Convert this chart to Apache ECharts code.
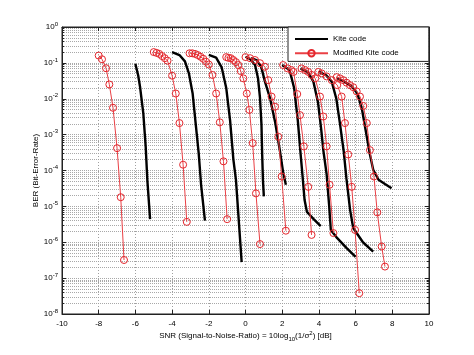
<!DOCTYPE html>
<html><head><meta charset="utf-8">
<script src="https://cdn.jsdelivr.net/npm/echarts@6/dist/echarts.min.js"></script>
<style>html,body{margin:0;padding:0;background:#fff}#c{width:474px;height:355px}</style>
</head><body><div id="c"></div>
<script>
// x positions are SNR in dB, y values are BER
const kite1 = [[-6.0,0.093],[-5.85,0.045],[-5.75,0.022],[-5.57,4e-3],[-5.44,4.7e-4],[-5.35,5.5e-5],[-5.2,4.4e-6]];
const kite2 = [[-4.0,0.2],[-3.6,0.165],[-3.3,0.11],[-3.08,0.05],[-2.88,0.014],[-2.7,1.7e-3],[-2.55,3e-4],[-2.42,4e-5],[-2.21,4e-6]];
const kite3 = [[-2.0,0.166],[-1.6,0.14],[-1.3,0.075],[-1.05,0.02],[-0.84,2.5e-3],[-0.66,2e-4],[-0.52,5.5e-5],[-0.21,2.8e-7]];
const kite4 = [[0,0.148],[0.25,0.128],[0.52,0.087],[0.68,0.038],[0.79,0.0105],[0.87,1.9e-3],[0.91,2.7e-4],[0.95,5.5e-5],[1.0,1.9e-5]];
const kite5 = [[0.3,0.135],[0.6,0.12],[0.85,0.08],[1.06,0.03],[1.34,0.0102],[1.61,2.3e-3],[1.88,3.4e-4],[2.05,9e-5],[2.2,4e-5]];
const kite6 = [[2.0,0.087],[2.4,0.063],[2.65,0.02],[2.85,2.5e-3],[3.0,3e-4],[3.12,6e-5],[3.22,1.5e-5],[3.35,7e-6],[3.7,4.5e-6],[4.1,2.8e-6]];
const kite7 = [[3.0,0.07],[3.4,0.055],[3.7,0.03],[3.95,8e-3],[4.12,1.5e-3],[4.24,3.7e-4],[4.42,8e-5],[4.55,1.2e-5],[4.65,2.2e-6],[5.0,1.3e-6],[5.5,7e-7],[6.0,3.9e-7]];
const kite8 = [[4.0,0.056],[4.4,0.045],[4.7,0.03],[4.95,0.01],[5.15,2e-3],[5.35,3.5e-4],[5.5,6e-5],[5.7,8e-6],[5.87,2.5e-6],[6.4,1e-6],[6.96,5.5e-7]];
const kite9 = [[5.0,0.037],[5.4,0.03],[5.8,0.022],[6.1,0.014],[6.35,5e-3],[6.55,1.3e-3],[6.78,2.8e-4],[6.96,1.05e-4],[7.25,5.5e-5],[7.6,4.2e-5],[7.96,3.2e-5]];

const mod1 = [[-8.0,0.16],[-7.82,0.126],[-7.6,0.071],[-7.42,0.025],[-7.22,5.6e-3],[-7.0,4.2e-4],[-6.8,1.8e-5],[-6.62,3.2e-7]];
const mod2 = [[-5.0,0.2],[-4.85,0.19],[-4.7,0.178],[-4.55,0.155],[-4.4,0.135],[-4.25,0.115],[-4.0,0.044],[-3.8,0.014],[-3.6,2.1e-3],[-3.4,1.45e-4],[-3.2,3.7e-6]];
const mod3 = [[-3.05,0.185],[-2.9,0.185],[-2.75,0.178],[-2.6,0.165],[-2.45,0.148],[-2.3,0.13],[-2.15,0.108],[-2.0,0.09],[-1.8,0.046],[-1.6,0.014],[-1.4,2.2e-3],[-1.2,1.8e-4],[-1.0,4.4e-6]];
const mod4 = [[-1.05,0.145],[-0.93,0.138],[-0.8,0.135],[-0.66,0.12],[-0.52,0.105],[-0.39,0.087],[-0.26,0.059],[-0.12,0.037],[0.07,0.014],[0.21,4.9e-3],[0.39,5.8e-4],[0.57,2.3e-5],[0.79,8.9e-7]];
const mod5 = [[0,0.145],[0.25,0.135],[0.52,0.12],[0.79,0.098],[1.06,0.078],[1.24,0.033],[1.42,0.0115],[1.61,6e-3],[1.79,8.7e-4],[1.97,6.8e-5],[2.2,2.1e-6]];
const mod6 = [[2.05,0.087],[2.3,0.07],[2.5,0.063],[2.62,0.056],[2.82,0.0135],[2.97,3.5e-3],[3.18,4.7e-4],[3.42,3.5e-5],[3.6,1.6e-6]];
const mod7 = [[3.05,0.07],[3.25,0.063],[3.42,0.056],[3.6,0.046],[3.8,0.037],[4.06,0.0115],[4.24,3.2e-3],[4.42,4.7e-4],[4.58,4e-5],[4.79,1.8e-6]];
const mod8 = [[3.97,0.056],[4.15,0.051],[4.42,0.042],[4.7,0.033],[5.0,0.024],[5.24,0.0115],[5.42,2.1e-3],[5.6,2.8e-4],[5.79,3.5e-5],[5.97,2.2e-6],[6.2,3.8e-8]];
const mod9 = [[4.97,0.04],[5.15,0.037],[5.33,0.033],[5.51,0.028],[5.69,0.024],[5.87,0.021],[6.06,0.016],[6.24,0.0115],[6.42,6.3e-3],[6.61,2.1e-3],[6.78,3.7e-4],[7.0,6.8e-5],[7.18,6.8e-6],[7.42,7.6e-7],[7.6,2.1e-7]];

const kiteCurves = [kite1,kite2,kite3,kite4,kite5,kite6,kite7,kite8,kite9];
const modCurves = [mod1,mod2,mod3,mod4,mod5,mod6,mod7,mod8,mod9];
const seriesNames = ['Kite code','Modified Kite code'];
const xMin = -10, xMax = 10, xStep = 2;
const yMin = 1e-8, yMax = 1;
const xTitle = 'SNR (Signal-to-Noise-Ratio) = 10log';

const FONT = '"Liberation Sans", Arial, sans-serif';
const chart = echarts.init(document.getElementById('c'), null, {renderer:'canvas'});

const series = [];
kiteCurves.forEach(d => series.push({
  name: seriesNames[0], type:'line', data:d, symbol:'none', silent:true,
  itemStyle:{color:'#000'},
  lineStyle:{color:'#000', width:2.4}, z:3, animation:false
}));
modCurves.forEach(d => series.push({
  name: seriesNames[1], type:'line', data:d, symbol:'circle', symbolSize:7, showSymbol:true,
  itemStyle:{color:'rgba(255,255,255,0)', borderColor:'#e4262c', borderWidth:1},
  lineStyle:{color:'#ea4045', width:1}, z:4, animation:false, silent:true
}));

const axisLineStyle = {color:'#222', width:1};
const gridLineStyle = {color:'#a8a8a8', type:[1,1], width:1};
chart.setOption({
  backgroundColor:'#fff',
  animation:false,
  textStyle:{fontFamily:FONT},
  grid:{left:62, top:27, width:367, height:287, show:true, borderColor:'#222', borderWidth:1, backgroundColor:'#fff'},
  legend:{
    data:[{name:seriesNames[0], itemStyle:{opacity:0}}, {name:seriesNames[1]}],
    orient:'vertical', left:288, top:27,
    padding:[8,30,4,6], itemGap:6, itemWidth:33, itemHeight:8,
    backgroundColor:'#fff', borderColor:'#222', borderWidth:1,
    textStyle:{fontFamily:FONT, fontSize:8, color:'#000'}
  },
  xAxis:[{
    type:'value', min:xMin, max:xMax, interval:xStep,
    name: xTitle + '{sub|10}(1/σ{sup|2}) [dB]', nameLocation:'middle', nameGap:16, nameMoveOverlap:false,
    nameTextStyle:{fontFamily:FONT, fontSize:8, color:'#000',
      rich:{sub:{fontSize:6, padding:[6,0,0,0], fontFamily:FONT}, sup:{fontSize:6, padding:[0,0,6,0], fontFamily:FONT}}},
    axisLine:{show:true, onZero:false, lineStyle:axisLineStyle},
    axisTick:{inside:true, length:4, lineStyle:axisLineStyle},
    axisLabel:{fontFamily:FONT, fontSize:8, color:'#000', margin:6},
    splitLine:{show:true, lineStyle:{color:'#a0a0a0', type:[1,2], width:1}}
  },{
    type:'value', min:xMin, max:xMax, interval:xStep, position:'top',
    axisLine:{show:true, onZero:false, lineStyle:axisLineStyle},
    axisTick:{inside:true, length:4, lineStyle:axisLineStyle},
    axisLabel:{show:false}, splitLine:{show:false}
  }],
  yAxis:[{
    type:'log', logBase:10, min:yMin, max:yMax,
    name:'BER (Bit-Error-Rate)', nameLocation:'middle', nameGap:22, nameMoveOverlap:false,
    nameTextStyle:{fontFamily:FONT, fontSize:8, color:'#000'},
    axisLine:{show:true, onZero:false, lineStyle:axisLineStyle},
    axisTick:{inside:true, length:4, lineStyle:axisLineStyle},
    minorTick:{show:true, splitNumber:9, length:2, lineStyle:axisLineStyle},
    minorSplitLine:{show:true, lineStyle:gridLineStyle},
    splitLine:{show:true, lineStyle:gridLineStyle},
    axisLabel:{fontFamily:FONT, color:'#000', margin:4,
      formatter: v => '{b|10}{s|' + Math.round(Math.log10(v)) + '}',
      rich:{b:{fontSize:8, fontFamily:FONT, color:'#000'}, s:{fontSize:6, fontFamily:FONT, color:'#000', padding:[0,0,6,0]}}}
  },{
    type:'log', logBase:10, min:yMin, max:yMax, position:'right',
    axisLine:{show:true, onZero:false, lineStyle:axisLineStyle},
    axisTick:{inside:true, length:4, lineStyle:axisLineStyle},
    minorTick:{show:true, splitNumber:9, length:2, lineStyle:axisLineStyle},
    axisLabel:{show:false}, splitLine:{show:false}
  }],
  series: series
});
</script></body></html>
